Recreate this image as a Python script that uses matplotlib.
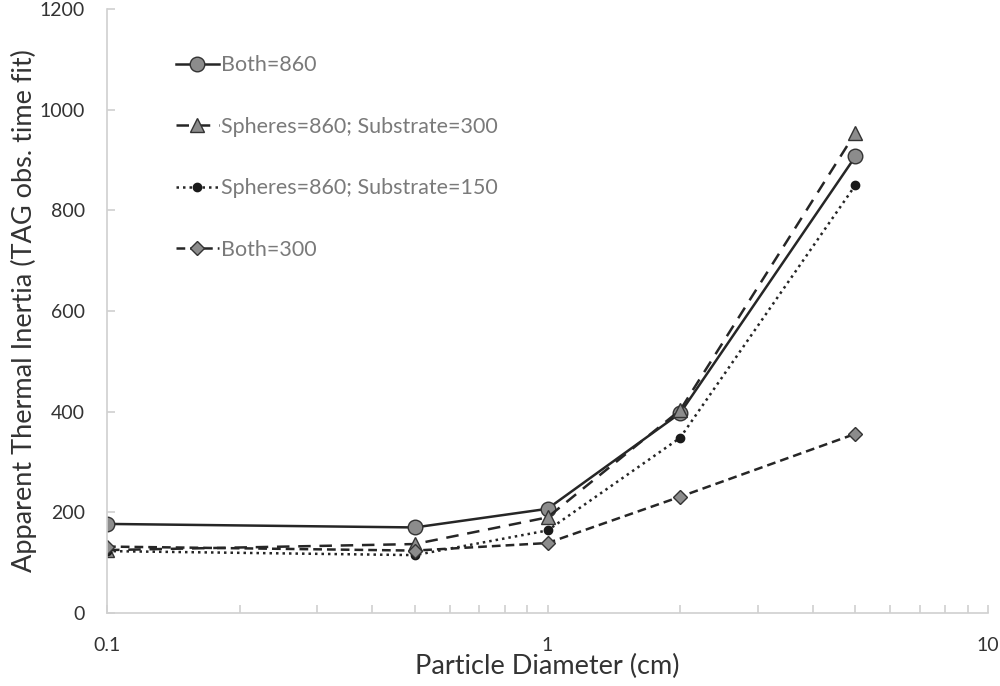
import matplotlib
matplotlib.use("Agg")
import matplotlib.pyplot as plt
from matplotlib.ticker import FixedLocator, NullFormatter

plt.rcParams['font.family'] = ['Lato', 'DejaVu Sans']

diam = [0.1, 0.5, 1, 2, 5]
both_860 = [177, 170, 207, 397, 907]
sph860_sub300 = [125, 137, 190, 403, 954]
sph860_sub150 = [123, 115, 164, 348, 850]
both_300 = [132, 124, 139, 231, 356]

labels = ["Both=860", "Spheres=860; Substrate=300",
          "Spheres=860; Substrate=150", "Both=300"]

fig = plt.figure(figsize=(10, 6.86), dpi=100)
ax = fig.add_axes([0.107, 0.1064, 0.881, 0.8805])

line_c = '#262626'
face_c = '#8c8c8c'

ax.plot(diam, both_860, ls='-', lw=1.8, c=line_c, marker='o', ms=10.5,
        mfc=face_c, mec='#333333', mew=1, label=labels[0])
ax.plot(diam, sph860_sub300, ls=(0, (5, 3.5)), lw=1.8, c=line_c, marker='^', ms=10,
        mfc=face_c, mec='#333333', mew=1, label=labels[1])
ax.plot(diam, sph860_sub150, ls=(0, (1, 1.6)), lw=1.8, c=line_c, marker='o', ms=6,
        mfc='#1a1a1a', mec='#1a1a1a', label=labels[2])
ax.plot(diam, both_300, ls=(0, (3.5, 2)), lw=1.8, c=line_c, marker='D', ms=7.5,
        mfc=face_c, mec='#333333', mew=1, label=labels[3])

ax.set_xscale('log')
ax.set_xlim(0.1, 10)
ax.set_ylim(0, 1200)
ax.set_yticks(range(0, 1201, 200))
ax.xaxis.set_major_locator(FixedLocator([0.1, 1, 10]))
ax.set_xticklabels(['0.1', '1', '10'])
minors = [m * d for d in (0.1, 1) for m in range(2, 10)]
ax.xaxis.set_minor_locator(FixedLocator(minors))
ax.xaxis.set_minor_formatter(NullFormatter())

for s in ('top', 'right'):
    ax.spines[s].set_visible(False)
for s in ('left', 'bottom'):
    ax.spines[s].set_color('#d0d0d0')
    ax.spines[s].set_linewidth(1.2)

ax.tick_params(axis='both', which='both', direction='in', color='#d0d0d0',
               labelsize=14, labelcolor='#333333', width=1.2)
ax.tick_params(axis='both', which='major', length=6)
ax.tick_params(axis='x', which='major', pad=17)
ax.tick_params(axis='y', which='major', pad=16)
ax.tick_params(axis='x', which='minor', length=6)

ax.set_xlabel('Particle Diameter (cm)', fontsize=19.5, color='#333333', labelpad=0)
ax.set_ylabel('Apparent Thermal Inertia (TAG obs. time fit)', fontsize=19.5,
              color='#333333', labelpad=2)

leg = ax.legend(loc='upper left', bbox_to_anchor=(0.068, 0.938), frameon=False,
                fontsize=15.5, labelspacing=1.93, handlelength=2.0,
                handletextpad=0.1, borderaxespad=0)
for t in leg.get_texts():
    t.set_color('#7a7a7a')

fig.savefig('out.png', dpi=100)
